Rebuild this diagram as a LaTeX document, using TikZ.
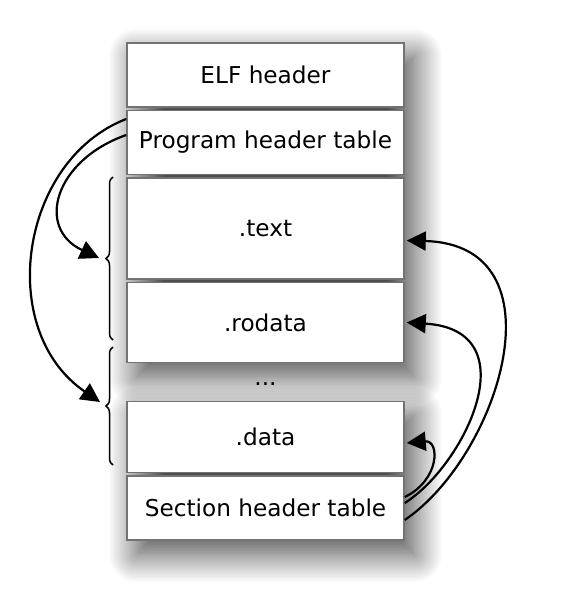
\documentclass[tikz,border=0pt]{standalone}
\usepackage{fontspec}
\setmainfont{DejaVu Sans}
\usetikzlibrary{arrows.meta,positioning,decorations.pathreplacing,shadows.blur,backgrounds}

\tikzset{stackshadow/.style={blur shadow={shadow xshift=5pt,shadow yshift=-7pt,shadow blur radius=14pt,shadow blur steps=20,shadow opacity=70}}}

\begin{document}
\begin{tikzpicture}[x=0.5pt,y=-0.5pt,font=\fontsize{11.6}{14}\selectfont]
\useasboundingbox (0,0) rectangle (566,616);
\begin{scope}[every node/.style={draw=black!55,line width=0.75pt,fill=white,minimum width=138.5pt,inner sep=0pt},
              node distance=1pt]
    \node[minimum height=32pt] (elf) at (265.5,75) {ELF header};
    \node[minimum height=32pt,below=of elf] (pht) {Program header table};
    \node[minimum height=50.5pt,below=of pht] (text) {.text};
    \node[minimum height=40pt,below=of text] (rodata) {.rodata};
    \node[minimum height=35.5pt,below=18.75pt of rodata] (data) {.data};
    \node[minimum height=32pt,below=of data] (sht) {Section header table};
\end{scope}
\node (dots) at (265.5,384) {...};

% shadow under the two groups of boxes
\begin{scope}[on background layer]
    \path[stackshadow] (elf.north west) rectangle (rodata.south east);
    \path[stackshadow] (data.north west) rectangle (sht.south east);
\end{scope}

% braces for the segments
\coordinate (textseg) at (99,258);
\coordinate (dataseg) at (100,402);
\begin{scope}[decoration={brace,amplitude=3.5pt}]
    \draw[decorate,line width=0.75pt] (113,340) -- (113,177);
    \draw[decorate,line width=0.75pt] (113,465) -- (113,347);
\end{scope}

\begin{scope}[>={Triangle[length=9.5pt,width=9.5pt]},
              every path/.style={draw=black,line width=1.1pt}]
    \draw[->] ([yshift=11.75pt]pht.west) .. controls (20,160) and (-5,330) .. (dataseg);
    \draw[->] ([yshift=3.75pt]pht.west) .. controls (55,160) and (35,228) .. (textseg);

    \draw[->] ([yshift=-6pt]sht.east) .. controls (500,455) and (565,245) .. ([yshift=-6pt,xshift=1pt]text.east);
    \draw[->] ([yshift=2.5pt]sht.east) .. controls (465,465) and (530,330) .. ([xshift=1pt]rodata.east);
    \draw[->] ([yshift=5.5pt]sht.east) .. controls (440,480) and (440,440) .. ([yshift=-3pt,xshift=1pt]data.east);
\end{scope}
\end{tikzpicture}
\end{document}
